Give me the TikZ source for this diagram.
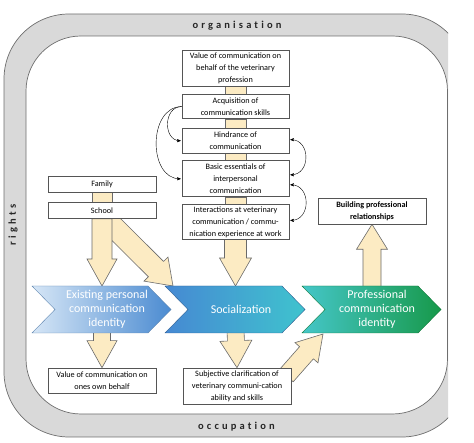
\documentclass[tikz,border=0pt]{standalone}
\usepackage{fontspec}
\setmainfont{Carlito}
\usepackage{tikz}
\usetikzlibrary{arrows,calc,positioning,backgrounds}

\definecolor{framegray}{HTML}{D9D9D9}
\definecolor{frameline}{HTML}{6E6E6E}
\definecolor{labelgray}{HTML}{262626}
\definecolor{boxline}{HTML}{555555}
\definecolor{cream}{HTML}{FCEBC3}
\definecolor{arrowline}{HTML}{6A6A6A}
\definecolor{chevA}{HTML}{D6E6F6}
\definecolor{chevB}{HTML}{4B8BD1}
\definecolor{chevC}{HTML}{4689D3}
\definecolor{chevD}{HTML}{3FC3CE}
\definecolor{chevE}{HTML}{45C6C8}
\definecolor{chevF}{HTML}{17994A}

% block arrow: start, tip, shaft half width, head half width, head length
\newcommand{\fatarrow}[5]{%
  \path (#1) coordinate (fa-s) (#2) coordinate (fa-e);
  \path ($(fa-e)!#5!(fa-s)$) coordinate (fa-h);
  \draw[fat] ($(fa-s)!#3!90:(fa-e)$) -- ($(fa-h)!#3!-90:(fa-s)$)
    -- ($(fa-h)!#4!-90:(fa-s)$) -- (fa-e) -- ($(fa-h)!#4!90:(fa-s)$)
    -- ($(fa-h)!#3!90:(fa-s)$) -- ($(fa-s)!#3!-90:(fa-e)$) -- cycle;}

\begin{document}
\begin{tikzpicture}[x=1pt,y=-1pt,>=stealth',thin,node distance=7pt]
  \tikzstyle{box}=[rectangle,draw=boxline,fill=white,line width=0.6pt,
                   minimum width=107pt,inner sep=1pt,align=center,
                   font=\fontsize{8.2}{12}\selectfont]
  \tikzstyle{fat}=[draw=arrowline,fill=cream,line width=0.6pt]
  \tikzstyle{chevtext}=[text=white,align=center,font=\fontsize{12}{14}\selectfont]
  \tikzstyle{framelabel}=[text=labelgray,
                          font=\bfseries\addfontfeatures{LetterSpace=30,Ligatures=CommonOff}\fontsize{10.5}{12}\selectfont]

  \useasboundingbox (0,0) rectangle (474,443);

  % column of boxes
  \node[box,minimum height=36pt] (val) at (235.5,68) {Value of communication on\\behalf of the veterinary\\profession};
  \node[box,minimum height=24pt] (acq) [below=8pt of val] {Acquisition of\\communication skills};
  \node[box,minimum height=25pt] (hin) [below=9pt of acq] {Hindrance of\\communication};
  \node[box,minimum height=36pt] (bas) [below=of hin] {Basic essentials of\\interpersonal\\communication};
  \node[box,minimum height=35pt] (int) [below=of bas] {Interactions at veterinary\\communication / commu-\\nication experience at work};

  \node[box,minimum width=108pt,minimum height=16pt] (fam) at (102,184) {Family};
  \node[box,minimum width=108pt,minimum height=16pt] (sch) [below=10pt of fam] {School};
  \node[box,minimum width=108pt,minimum height=25pt] (own) at (102,380.5) {Value of communication on\\ones own behalf};
  \node[box,minimum width=108pt,minimum height=36pt] (sub) at (237,386) {Subjective clarification of\\veterinary communi-cation\\ability and skills};
  \node[box,minimum width=108pt,minimum height=26pt,
        font=\bfseries\fontsize{8.2}{12}\selectfont] (bld) at (372,211) {Building professional\\relationships};

  % chevrons
  \path[draw=chevB!60!gray,left color=chevA,right color=chevB]
    (32,286) -- (148,286) -- (171,309.5) -- (148,333) -- (32,333) -- (55,309.5) -- cycle;
  \path[draw=chevC!70!black,left color=chevC,right color=chevD]
    (165,286) -- (282,286) -- (305,309.5) -- (282,333) -- (165,333) -- (188,309.5) -- cycle;
  \path[draw=chevF!80!black,left color=chevE,right color=chevF]
    (302,286) -- (418,286) -- (441,309.5) -- (418,333) -- (302,333) -- (325,309.5) -- cycle;

  \node[chevtext] (ex) at (107,309.5) {Existing personal\\communication\\identity};
  \node[chevtext] (so) at (241,309.5) {Socialization};
  \node[chevtext] (pr) at (377,309.5) {Professional\\communication\\identity};

  \coordinate (ex-n) at (102,286);
  \coordinate (ex-s) at (102,330);
  \coordinate (so-n) at (235.5,286);
  \coordinate (so-nw) at (173,286);
  \coordinate (so-s) at (235.5,330);
  \coordinate (pr-n) at (372,289);
  \coordinate (pr-sw) at (323,334);

  \begin{pgfonlayer}{background}
    \begin{scope}
      \clip (0,0) rectangle (448,443);
      \draw[draw=frameline,fill=framegray,even odd rule,line width=0.7pt]
        [rounded corners=65pt] (4,14) rectangle (467,437)
        [rounded corners=55pt] (26,36) rectangle (447.5,414);
    \end{scope}

    \draw[fat] ($(val.south)+(-10.5,0)$) rectangle ($(acq.north)+(10.5,0)$);
    \draw[fat] ($(acq.south)+(-10.5,0)$) rectangle ($(hin.north)+(10.5,0)$);
    \draw[fat] ($(hin.south)+(-10.5,0)$) rectangle ($(bas.north)+(10.5,0)$);
    \draw[fat] ($(bas.south)+(-10.5,0)$) rectangle ($(int.north)+(10.5,0)$);
    \draw[fat] ($(fam.south)+(-10,0)$) rectangle ($(sch.north)+(10,0)$);

    \fatarrow{$(sch.south)+(3.5,0)$}{so-nw}{10.8pt}{17pt}{24pt}
    \fatarrow{sch.south}{ex-n}{10pt}{15pt}{27pt}
    \fatarrow{int.south}{so-n}{11pt}{16pt}{28pt}
    \fatarrow{ex-s}{own.north}{8.5pt}{15pt}{27pt}
    \fatarrow{so-s}{sub.north}{8.5pt}{16pt}{27pt}
    \fatarrow{$(sub.north east)+(-5,8)$}{pr-sw}{9.2pt}{15.3pt}{25pt}
    \fatarrow{pr-n}{bld.south}{9pt}{15.5pt}{25pt}
  \end{pgfonlayer}

  \path (acq.west) edge[->,shorten >=1pt,out=180,in=180,looseness=1.4] (hin.west)
        (acq.west) edge[->,shorten >=1pt,out=180,in=180,looseness=1.2] (bas.west);
  \path ($(hin.east)+(1,-1)$) edge[<->,out=0,in=0,looseness=1.5] ($(bas.east)+(1,-4)$)
        ($(bas.east)+(1,6)$) edge[<->,out=0,in=0,looseness=1.5] ($(int.east)+(1,-1.5)$);

  \node[framelabel] (org) at (237,26) {organisation};
  \node[framelabel] (occ) at (236.5,426.5) {occupation};
  \node[framelabel,rotate=90] (rig) at (13,225) {rights};
\end{tikzpicture}
\end{document}
